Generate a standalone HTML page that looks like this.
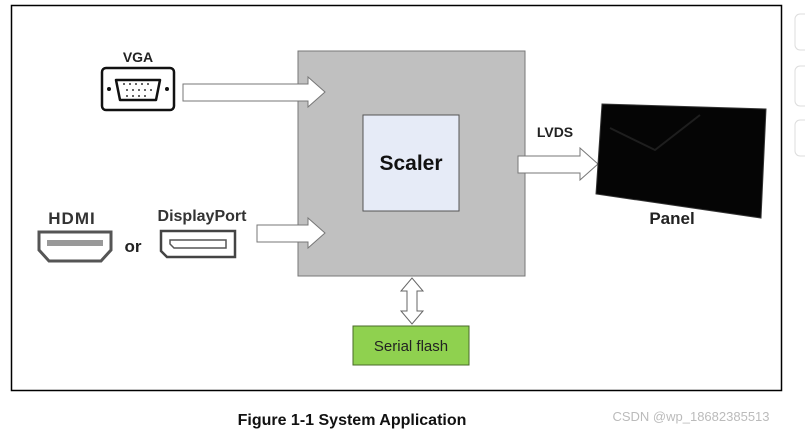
<!DOCTYPE html>
<html><head><style>
body{margin:0;width:805px;height:432px;background:#fff;overflow:hidden;position:relative;font-family:"Liberation Sans",sans-serif}
</style></head><body>
<svg width="805" height="432" style="position:absolute;left:0;top:0">
<rect x="11.5" y="5.5" width="770" height="385" fill="#fff" stroke="#000" stroke-width="1.5"/>
<rect x="795" y="14" width="20" height="36" rx="5" fill="#fff" stroke="#ddd"/>
<rect x="795" y="66" width="20" height="40" rx="5" fill="#fff" stroke="#ddd"/>
<rect x="795" y="120" width="20" height="36" rx="5" fill="#fff" stroke="#ddd"/>
<rect x="298" y="51" width="227" height="225" fill="#c0c0c0" stroke="#777" stroke-width="1"/>
<rect x="363" y="115" width="96" height="96" fill="#e6ebf7" stroke="#555" stroke-width="1"/>
<text x="411" y="170" font-size="21" font-weight="bold" text-anchor="middle" fill="#111">Scaler</text>
<rect x="353" y="326" width="116" height="39" fill="#8fd14f" stroke="#4a6a2a"/>
<text x="411" y="351" font-size="15" text-anchor="middle" fill="#222">Serial flash</text>
<path d="M407,291 L401,291 L412,278 L423,291 L417,291 L417,311 L423,311 L412,324 L401,311 L407,311 Z" fill="#fff" stroke="#666"/>
<path d="M183,84 L308,84 L308,77 L325,92 L308,107 L308,101 L183,101 Z" fill="#fff" stroke="#777"/>
<path d="M257,225 L308,225 L308,218 L325,233 L308,248 L308,242 L257,242 Z" fill="#fff" stroke="#777"/>
<path d="M518,156 L580,156 L580,148 L598,164 L580,180 L580,173 L518,173 Z" fill="#fff" stroke="#777"/>
<text x="138" y="62" font-size="14" font-weight="bold" text-anchor="middle" fill="#222">VGA</text>
<rect x="102" y="68" width="72" height="42" rx="4" fill="#fff" stroke="#111" stroke-width="2.5"/>
<path d="M116,80 h44 l-4,20 h-36 z" fill="#fff" stroke="#111" stroke-width="2.5" stroke-linejoin="round"/>
<circle cx="109" cy="89" r="2" fill="#111"/><circle cx="167" cy="89" r="2" fill="#111"/>
<g fill="#333"><circle cx="124" cy="84" r="1"/><circle cx="130" cy="84" r="1"/><circle cx="136" cy="84" r="1"/><circle cx="142" cy="84" r="1"/><circle cx="148" cy="84" r="1"/><circle cx="127" cy="90" r="1"/><circle cx="133" cy="90" r="1"/><circle cx="139" cy="90" r="1"/><circle cx="145" cy="90" r="1"/><circle cx="151" cy="90" r="1"/><circle cx="127" cy="96" r="1"/><circle cx="133" cy="96" r="1"/><circle cx="139" cy="96" r="1"/><circle cx="145" cy="96" r="1"/></g>
<text x="72" y="224" font-size="17" font-weight="bold" text-anchor="middle" fill="#333" letter-spacing="1">HDMI</text>
<path d="M39,232 h72 v18 l-10,11 h-52 l-10,-11 z" fill="#fff" stroke="#555" stroke-width="3"/>
<rect x="47" y="240" width="56" height="6" fill="#999"/>
<text x="133" y="252" font-size="17" font-weight="bold" text-anchor="middle" fill="#222">or</text>
<text x="202" y="221" font-size="16" font-weight="bold" text-anchor="middle" fill="#333">DisplayPort</text>
<path d="M161,231 h74 v26 h-68 l-6,-6 z" fill="#fff" stroke="#444" stroke-width="2.5"/>
<path d="M170,240 h56 v8 h-52 l-4,-4 z" fill="#fff" stroke="#555" stroke-width="1.5"/>
<text x="555" y="137" font-size="14" font-weight="bold" text-anchor="middle" fill="#222">LVDS</text>
<path d="M602,104 L766,109 L761,218 L596,194 Z" fill="#050505" stroke="#333"/>
<path d="M610,128 L655,150 L700,115" stroke="#1e1e1e" stroke-width="2" fill="none"/>
<text x="672" y="224" font-size="17" font-weight="bold" text-anchor="middle" fill="#222">Panel</text>
<text x="352" y="425" font-size="16" font-weight="bold" text-anchor="middle" fill="#111">Figure 1-1 System Application</text>
<text x="691" y="421" font-size="13" text-anchor="middle" fill="#bbb">CSDN @wp_18682385513</text>
</svg>
</body></html>
